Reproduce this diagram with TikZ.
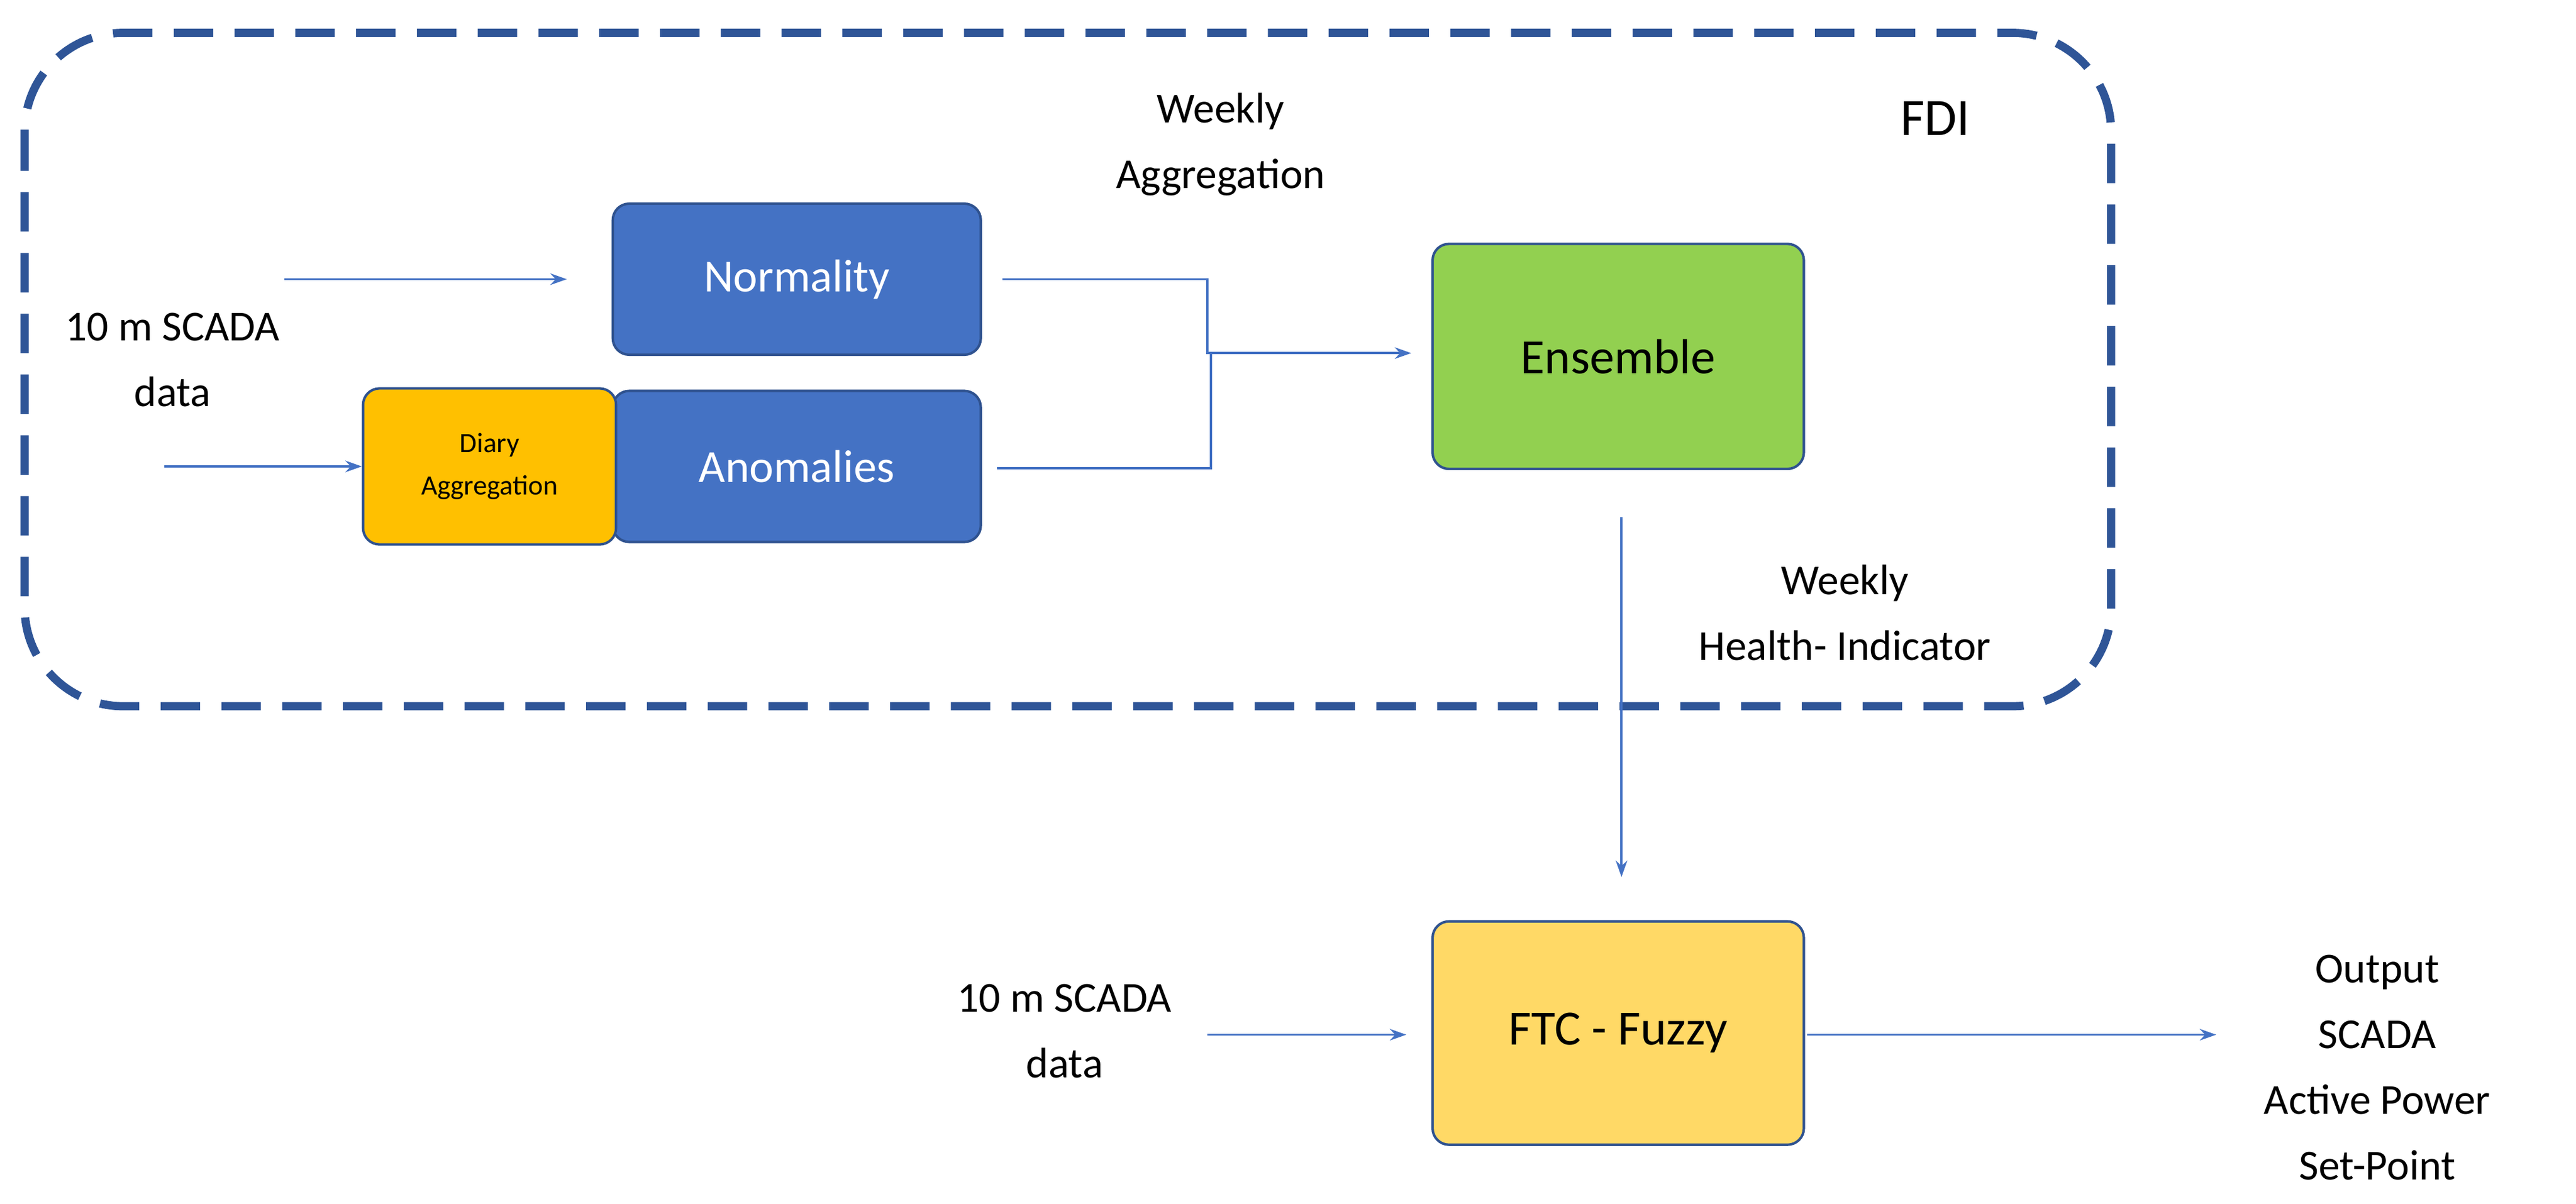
\documentclass[tikz,border=0pt]{standalone}
\usepackage{fontspec}
\setmainfont{Carlito}
\usetikzlibrary{arrows.meta}
\definecolor{dashblue}{RGB}{47,85,151}
\definecolor{bluebox}{RGB}{68,114,196}
\definecolor{blueedge}{RGB}{47,82,143}
\definecolor{orangebox}{RGB}{255,192,0}
\definecolor{greenbox}{RGB}{146,208,80}
\definecolor{ybox}{RGB}{255,217,102}
\begin{document}
\begin{tikzpicture}[x=1pt,y=-1pt,
  box/.style={draw=blueedge,line width=1.5pt,rounded corners=10pt,inner sep=0pt},
  arr/.style={draw=bluebox,line width=1.4pt,-{Stealth[length=10pt,width=7pt]}},
  ln/.style={draw=bluebox,line width=1.4pt},
  lbl/.style={font=\fontsize{26}{40}\selectfont,align=center}]
\useasboundingbox (0,0) rectangle (1568,733);
\draw[dashblue,line width=5pt,dash pattern=on 24pt off 13pt,rounded corners=60pt] (15,20) rectangle (1285,430);
\node[font=\fontsize{32}{38}\selectfont] (fdi) at (1178,72) {FDI};
\node[box,fill=bluebox,minimum width=224pt,minimum height=92pt,text=white,font=\fontsize{28}{34}\selectfont] (norm) at (485,170) {Normality};
\node[box,fill=bluebox,minimum width=224pt,minimum height=92pt,text=white,font=\fontsize{28}{34}\selectfont] (anom) at (485,284) {Anomalies};
\node[box,fill=orangebox,minimum width=154pt,minimum height=95pt,align=center,font=\fontsize{17}{26}\selectfont] (diary) at (298,284) {Diary\\Aggregation};
\node[box,fill=greenbox,minimum width=226pt,minimum height=137pt,font=\fontsize{30}{36}\selectfont] (ens) at (985,217) {Ensemble};
\node[box,fill=ybox,minimum width=226pt,minimum height=136pt,font=\fontsize{30}{36}\selectfont] (ftc) at (985,629) {FTC - Fuzzy};
\node[lbl] (in1) at (105,219) {10 m SCADA\\data};
\node[lbl] (wa) at (743,88) {Weekly\\Aggregation};
\node[lbl] (whi) at (1123,373) {Weekly\\Health- Indicator};
\node[lbl] (in2) at (648,628) {10 m SCADA\\data};
\node[lbl] (out) at (1447,650) {Output\\SCADA\\Active Power\\Set-Point};
\coordinate (a1) at (173,170); \coordinate (a2) at (345,170);
\coordinate (b1) at (100,284);
\coordinate (c1) at (610,170); \coordinate (c2) at (735,170); \coordinate (c3) at (735,215); \coordinate (c4) at (859,215);
\coordinate (d1) at (607,285); \coordinate (d2) at (737,285); \coordinate (d3) at (737,215);
\coordinate (e1) at (987,315); \coordinate (e2) at (987,534);
\coordinate (f1) at (735,630); \coordinate (f2) at (856,630);
\coordinate (g1) at (1100,630); \coordinate (g2) at (1349,630);
\draw[arr] (a1) -- (a2);
\draw[arr] (b1) -- (diary.west);
\draw[arr] (c1) -- (c2) -- (c3) -- (c4);
\draw[ln] (d1) -- (d2) -- (d3);
\draw[arr] (e1) -- (e2);
\draw[arr] (f1) -- (f2);
\draw[arr] (g1) -- (g2);
\end{tikzpicture}
\end{document}
